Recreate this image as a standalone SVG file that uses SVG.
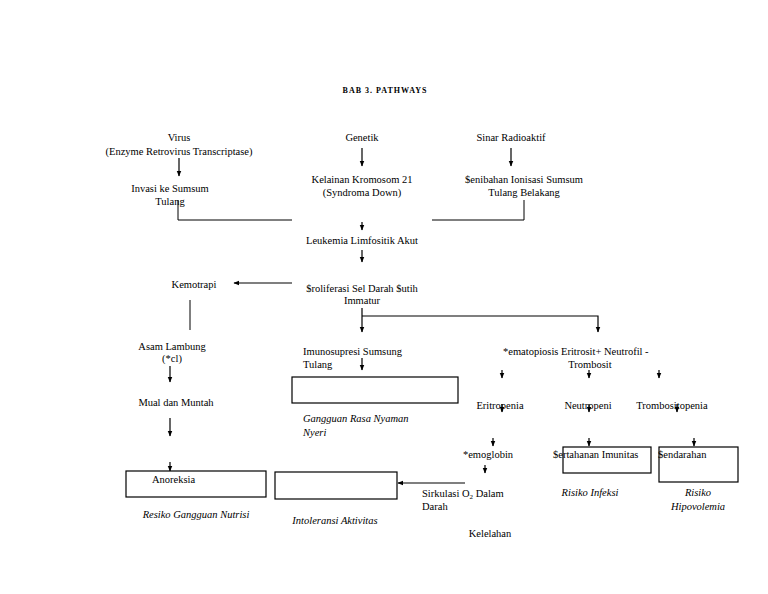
<svg xmlns="http://www.w3.org/2000/svg" width="768" height="594" viewBox="0 0 768 594">
<defs><marker id="a" viewBox="0 0 10 10" refX="9" refY="5" markerWidth="5" markerHeight="5" orient="auto"><path d="M0,1L10,5L0,9z" fill="#000"/></marker></defs>
<style>text{font-family:'Liberation Serif','Times New Roman','DejaVu Serif',serif;font-size:10.5px;fill:#000}.c{text-anchor:middle}.i{font-style:italic}.l{stroke:#000;stroke-width:1;fill:none}.ar{stroke:#000;stroke-width:1.2;fill:none;marker-end:url(#a)}.b{fill:#fff;stroke:#000;stroke-width:1.2}</style>
<rect width="768" height="594" fill="#fff"/>
<text x="385" y="93" class="c" font-weight="bold" style="font-size:8px;letter-spacing:1px">BAB 3. PATHWAYS</text>
<g id="connectors">
<path class="ar" d="M179,158V176"/><path class="l" d="M178,200V220H292"/>
<path class="ar" d="M362,148V166"/><path class="ar" d="M362,222V230"/>
<path class="ar" d="M511,148V166"/><path class="l" d="M524,200V220H432"/>
<path class="ar" d="M362,250V262"/><path class="ar" d="M292,283H234"/>
<path class="ar" d="M362,308V332"/><path class="ar" d="M362,316H598V332"/>
<path class="l" d="M190,300V330"/>
<path class="ar" d="M170,366V382"/><path class="ar" d="M170,418V436"/><path class="ar" d="M170,462V471"/>
<path class="ar" d="M362,358V370"/>
<path class="ar" d="M502,370V378"/><path class="ar" d="M589,370V378"/><path class="ar" d="M659,370V378"/>
<path class="ar" d="M502,404V412"/><path class="ar" d="M589,404V412"/><path class="ar" d="M677,404V412"/>
<path class="ar" d="M493,438V446"/><path class="ar" d="M589,438V446"/><path class="ar" d="M694,438V446"/>
<path class="ar" d="M485,465V473"/><path class="ar" d="M465,483H398"/>
</g>
<g id="boxes">
<rect class="b" x="126" y="471" width="140" height="26"/>
<rect class="b" x="292" y="377" width="166" height="26"/>
<rect class="b" x="275" y="472" width="122" height="27"/>
<rect class="b" x="563" y="447" width="88" height="26"/>
<rect class="b" x="659" y="447" width="79" height="35"/>
</g>
<g id="n1"><text x="179" y="141" class="c">Virus</text><text x="179" y="155" class="c">(Enzyme Retrovirus Transcriptase)</text></g>
<g id="n2"><text x="170" y="192" class="c">Invasi ke Sumsum</text><text x="170" y="205" class="c">Tulang</text></g>
<g id="n3"><text x="362" y="141" class="c">Genetik</text></g>
<g id="n4"><text x="362" y="183" class="c">Kelainan Kromosom 21</text><text x="362" y="196" class="c">(Syndroma Down)</text></g>
<g id="n5"><text x="511" y="141" class="c">Sinar Radioaktif</text></g>
<g id="n6"><text x="524" y="183" class="c">$enibahan Ionisasi Sumsum</text><text x="524" y="196" class="c">Tulang Belakang</text></g>
<g id="n7"><text x="362" y="244" class="c">Leukemia Limfositik Akut</text></g>
<g id="n8"><text x="362" y="292" class="c">$roliferasi Sel Darah $utih</text><text x="362" y="304" class="c">Immatur</text></g>
<g id="n9"><text x="194" y="288" class="c">Kemotrapi</text></g>
<g id="n10"><text x="172" y="350" class="c">Asam Lambung</text><text x="172" y="362" class="c">(*cl)</text></g>
<g id="n11"><text x="176" y="406" class="c">Mual dan Muntah</text></g>
<g id="n12"><text x="152" y="483">Anoreksia</text><text x="196" y="518" class="c i">Resiko Gangguan Nutrisi</text></g>
<g id="n13"><text x="303" y="355">Imunosupresi Sumsung</text><text x="303" y="368">Tulang</text><text x="303" y="422" class="i">Gangguan Rasa Nyaman</text><text x="303" y="436" class="i">Nyeri</text></g>
<g id="n14"><text x="503" y="355">*ematopiosis Eritrosit+ Neutrofil -</text><text x="590" y="368" class="c">Trombosit</text></g>
<g id="n15"><text x="500" y="409" class="c">Eritropenia</text></g>
<g id="n16"><text x="588" y="409" class="c">Neutropeni</text></g>
<g id="n17"><text x="672" y="409" class="c">Trombositopenia</text></g>
<g id="n18"><text x="488" y="458" class="c">*emoglobin</text></g>
<g id="n19"><text x="553" y="458">$ertahanan Imunitas</text><text x="590" y="496" class="c i">Risiko Infeksi</text></g>
<g id="n20"><text x="658" y="458">$endarahan</text><text x="698" y="496" class="c i">Risiko</text><text x="698" y="510" class="c i">Hipovolemia</text></g>
<g id="n21"><text x="422" y="497">Sirkulasi O<tspan dy="2" style="font-size:7px">2</tspan><tspan dy="-2"> Dalam</tspan></text><text x="422" y="510">Darah</text></g>
<g id="n22"><text x="335" y="524" class="c i">Intoleransi Aktivitas</text></g>
<g id="n23"><text x="490" y="537" class="c">Kelelahan</text></g>
</svg>
